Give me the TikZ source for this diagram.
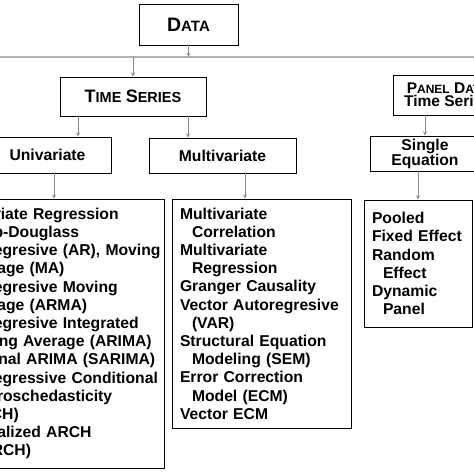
\documentclass[tikz,border=0pt]{standalone}
\usepackage{fontspec}
\setmainfont{Liberation Sans}
\usepackage{tikz}
\usetikzlibrary{shapes.geometric, arrows, positioning, shadows}
\hyphenpenalty=10000
\exhyphenpenalty=10000
\tikzstyle{head} = [rectangle, draw=black, line width=0.9pt, fill=white, text centered, inner sep=0pt, drop shadow={shadow xshift=1.3pt, shadow yshift=-1.3pt, fill=black!65, opacity=1}, font=\bfseries\fontsize{15.7}{15}\selectfont]
\tikzstyle{methods} = [head, align=left, inner xsep=8pt, inner ysep=0pt, font=\bfseries\fontsize{15.7}{18.2}\selectfont]
\tikzstyle{arrow} = [draw=black!45, line width=0.9pt, ->, >=stealth]
\tikzstyle{bus} = [draw=black!30, line width=1.2pt]
\newcommand{\scword}[4]{{\fontsize{#1}{#1}\selectfont #3}{\fontsize{#2}{#2}\selectfont #4}}

\begin{document}
\begin{tikzpicture}[x=1pt, y=1pt]
\useasboundingbox (0,0) rectangle (474,474);
\clip (0,0) rectangle (474,474);

% Nodes
\node (data) [head, minimum width=99pt, minimum height=41pt] at (188.5,449.5) {\scword{19.5}{15}{D}{ATA}};
\coordinate (busL) at (-10,417);
\coordinate (busR) at (484,417);
\node (ts) [head, minimum width=146pt, minimum height=39pt] at (133,377.5) {\scword{18}{14.5}{T}{IME} \scword{18}{14.5}{S}{ERIES}};
\node (panel) [head, align=center, minimum width=109pt, minimum height=40pt, font=\bfseries\fontsize{15.5}{13.4}\selectfont] at (447.5,379) {\scword{15.5}{12}{P}{ANEL} \scword{15.5}{12}{D}{ATA}\\Time Series};

\node (uni) [head, minimum width=127pt, minimum height=36pt] at (47.5,319) {Univariate};
\node (multi) [head, minimum width=147pt, minimum height=35pt] at (222.5,318.5) {Multivariate};
\node (single) [head, align=center, minimum width=110pt, minimum height=35pt] at (425,320.5) {Single\\Equation};

% Method lists
\node (unim) [methods, text width=204pt, minimum height=269pt] at (54,140.5) {%
Univariate Regression\\
\hspace*{11pt}Cobb-Douglass\\
\mbox{Autoregresive (AR), Moving}\\
\hspace*{11pt}Average (MA)\\
Autoregresive Moving\\
\hspace*{11pt}Average (ARMA)\\
Autoregresive Integrated\\
\hspace*{11pt}\mbox{Moving Average (ARIMA)}\\
Seasonal ARIMA (SARIMA)\\
\mbox{Autoregressive Conditional}\\
\hspace*{11pt}Heteroschedasticity\\
\hspace*{11pt}(ARCH)\\
Generalized ARCH\\
\hspace*{11pt}(GARCH)};
\node (multim) [methods, text width=163pt, minimum height=229pt] at (261.5,160.5) {%
Multivariate\\
\hspace*{12pt}Correlation\\
Multivariate\\
\hspace*{12pt}Regression\\
Granger Causality\\
\mbox{Vector Autoregresive}\\
\hspace*{12pt}(VAR)\\
Structural Equation\\
\hspace*{12pt}Modeling (SEM)\\
Error Correction\\
\hspace*{12pt}Model (ECM)\\
Vector ECM};
\node (panelm) [methods, text width=92pt, minimum height=127pt] at (418,210.5) {%
Pooled\\
\mbox{Fixed Effect}\\
Random\\
\hspace*{11pt}Effect\\
Dynamic\\
\hspace*{11pt}Panel};

% Arrows
\draw [bus] (busL) -- (busR);
\draw [arrow] (data.south) -- (data.south |- busL);
\draw [arrow] (ts.north |- busL) -- (ts.north);
\draw [arrow] ([xshift=-55pt]ts.south) -- ([xshift=-55pt]ts.south |- uni.north);
\draw [arrow] ([xshift=55pt]ts.south) -- ([xshift=55pt]ts.south |- multi.north);
\draw [arrow] (uni.south -| unim.north) -- (unim.north);
\draw [arrow] ([xshift=22.5pt]multi.south) -- ([xshift=22.5pt]multi.south |- multim.north);
\draw [arrow] (panel.south -| single.north) -- (single.north);
\draw [arrow] (single.south -| panelm.north) -- (panelm.north);

\end{tikzpicture}
\end{document}
